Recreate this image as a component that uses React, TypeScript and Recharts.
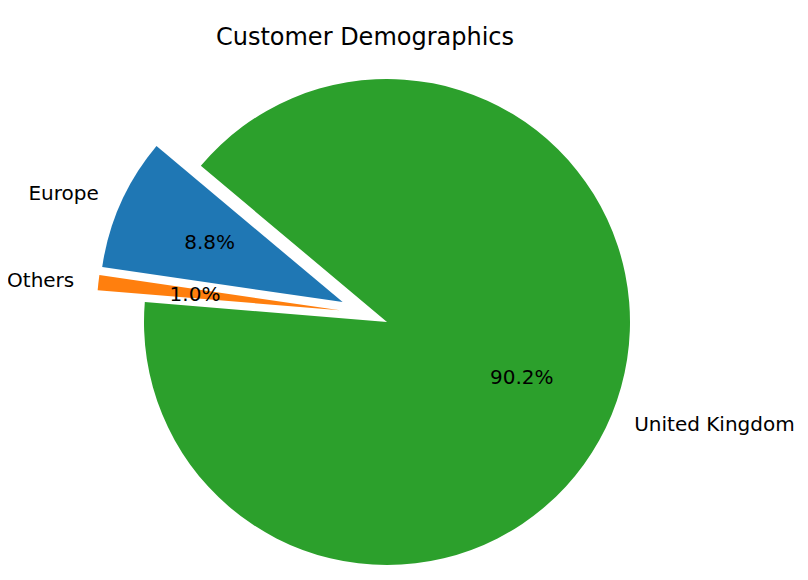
import { PieChart, Pie, Cell, Sector } from 'recharts';

const regions = ['Europe', 'Others', 'United Kingdom'];
const shares = [8.8, 1.0, 90.2];
const explode = [0.2, 0.2, 0];
// the reference pushes "Others" out slightly above its own mid angle
const explodeTilt = [0, 7.5, 0];
const colors = ['#1f77b4', '#ff7f0e', '#2ca02c'];

const data = regions.map((name, i) => ({ name, value: shares[i], idx: i }));

const RAD = Math.PI / 180;
const FONT = '"DejaVu Sans", sans-serif';

const polar = (cx: number, cy: number, angle: number, dist: number) => ({
  x: cx + Math.cos(-angle * RAD) * dist,
  y: cy + Math.sin(-angle * RAD) * dist,
});

// centre of a slice after matplotlib-style explode
const sliceCentre = (cx: number, cy: number, mid: number, r: number, i: number) =>
  polar(cx, cy, mid - explodeTilt[i], explode[i] * r);

const ExplodedSector = (props: any) => {
  const i = props.payload?.idx ?? props.idx ?? 0;
  const c = sliceCentre(props.cx, props.cy, props.midAngle, props.outerRadius, i);
  return <Sector {...props} cx={c.x} cy={c.y} stroke="none" />;
};

const renderLabel = (props: any) => {
  const { cx, cy, midAngle, outerRadius, index } = props;
  const c = sliceCentre(cx, cy, midAngle, outerRadius, index);
  const lab = polar(c.x, c.y, midAngle, outerRadius * 1.1);
  const pct = polar(c.x, c.y, midAngle, outerRadius * 0.6);
  return (
    <g>
      <text
        x={lab.x}
        y={lab.y}
        textAnchor={lab.x > cx ? 'start' : 'end'}
        dominantBaseline="central"
        fontFamily={FONT}
        fontSize={20}
        fill="#000"
      >
        {regions[index]}
      </text>
      <text
        x={pct.x}
        y={pct.y}
        textAnchor="middle"
        dominantBaseline="central"
        fontFamily={FONT}
        fontSize={20}
        fill="#000"
      >
        {shares[index].toFixed(1)}%
      </text>
    </g>
  );
};

export default function App() {
  return (
    <div style={{ width: 808, height: 580, position: 'relative', margin: -8, background: '#fff' }}>
      <div
        style={{
          position: 'absolute',
          left: 0,
          width: 730,
          top: 23,
          textAlign: 'center',
          fontFamily: FONT,
          fontSize: 24,
          color: '#000',
        }}
      >
        Customer Demographics
      </div>
      <PieChart width={808} height={580} margin={{ top: 0, right: 0, bottom: 0, left: 0 }}>
        <Pie
          data={data}
          dataKey="value"
          nameKey="name"
          cx={387}
          cy={322}
          outerRadius={243}
          startAngle={140}
          endAngle={500}
          stroke="none"
          shape={ExplodedSector}
          label={renderLabel}
          labelLine={false}
          isAnimationActive={false}
        >
          {data.map((d, i) => (
            <Cell key={d.name} fill={colors[i]} />
          ))}
        </Pie>
      </PieChart>
    </div>
  );
}
